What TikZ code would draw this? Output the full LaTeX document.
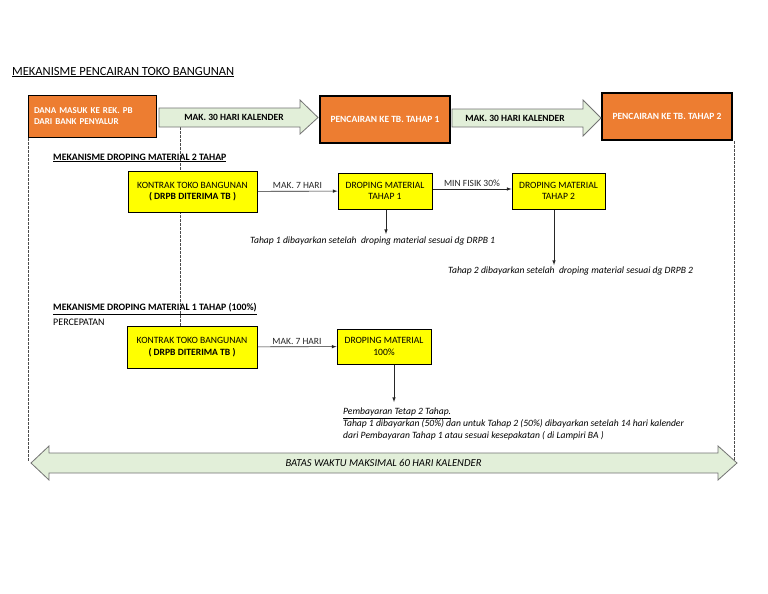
\documentclass[tikz,border=0pt]{standalone}
\usepackage{fontspec}
\setmainfont{Carlito}
\definecolor{oranye}{HTML}{ED7D31}
\definecolor{hijau}{HTML}{E2EFD9}
\definecolor{kuning}{HTML}{FFFF00}

\begin{document}
\begin{tikzpicture}[x=1pt,y=-1pt,
  oranyebox/.style={draw=black,line width=0.8pt,fill=oranye,text=white,inner sep=0pt,
    font=\fontsize{9.5}{11}\selectfont\bfseries},
  kuningbox/.style={draw=black,line width=1pt,fill=kuning,inner sep=0pt,align=center,
    font=\fontsize{9.6}{11.5}\selectfont},
  panah/.style={draw=black!55,fill=hijau,line width=0.8pt},
  garis/.style={-latex,black!85,line width=0.6pt},
  putus/.style={dashed,black!70,line width=0.7pt,dash pattern=on 2.5pt off 1.5pt},
  lbl/.style={font=\fontsize{9.5}{11}\selectfont,inner sep=2pt},
  ket/.style={font=\fontsize{9.6}{11.6}\selectfont\itshape,anchor=west,inner sep=0pt,align=left},
  judulsub/.style={font=\fontsize{9.8}{11}\selectfont\bfseries,anchor=west,inner sep=0pt}]
\useasboundingbox[fill=white] (0,0) rectangle (768,594);

% garis putus-putus
\coordinate (kiriA) at (28,138);
\coordinate (kiriB) at (28,462);
\coordinate (kananA) at (734,141);
\coordinate (kananB) at (734,462);
\coordinate (tengahA) at (180,127);
\coordinate (tengahB) at (180,326);
\draw[putus] (kiriA) -- (kiriB);
\draw[putus] (kananA) -- (kananB);
\draw[putus] (tengahA) -- (tengahB);

\node[anchor=west,inner sep=0pt,font=\fontsize{12.5}{14}\selectfont] (judul) at (12,72)
  {\underline{MEKANISME PENCAIRAN TOKO BANGUNAN}};

% baris pencairan
\node[oranyebox,minimum width=128pt,minimum height=42pt,text width=116pt,align=left,
  font=\fontsize{9}{11}\selectfont\bfseries] (dana) at (92,116)
  {DANA MASUK KE REK. PB\\DARI BANK PENYALUR};
\node[oranyebox,minimum width=130pt,minimum height=47pt,line width=1.2pt] (cair1) at (385,119.5)
  {PENCAIRAN KE TB. TAHAP 1};
\node[oranyebox,minimum width=130pt,minimum height=47pt,line width=1.2pt] (cair2) at (667,116.5)
  {PENCAIRAN KE TB. TAHAP 2};

\draw[panah] (159,108) -- (300,108) -- (300,100) -- (318,117.5) -- (300,134) -- (300,127) -- (159,127) -- cycle;
\node[font=\fontsize{9.5}{11}\selectfont\bfseries] (hari1) at (234,117.5) {MAK. 30 HARI KALENDER};
\draw[panah] (452,109) -- (583,109) -- (583,100) -- (601,118) -- (583,136) -- (583,127) -- (452,127) -- cycle;
\node[font=\fontsize{9.5}{11}\selectfont\bfseries] (hari2) at (515,118) {MAK. 30 HARI KALENDER};

% droping material 2 tahap
\node[judulsub] (sub1) at (53,158) {\underline{MEKANISME DROPING MATERIAL 2 TAHAP}};
\node[kuningbox,minimum width=129pt,minimum height=41pt] (kontrak1) at (192.5,191.5)
  {KONTRAK TOKO BANGUNAN\\\textbf{( DRPB DITERIMA TB )}};
\node[kuningbox,minimum width=94pt,minimum height=36pt] (drop1) at (385,191)
  {DROPING MATERIAL\\TAHAP 1};
\node[kuningbox,minimum width=93pt,minimum height=36pt] (drop2) at (558.5,191)
  {DROPING MATERIAL\\TAHAP 2};
\draw[garis] (kontrak1) -- node[lbl,above] {MAK. 7 HARI} (drop1);
\draw[garis] (drop1.east |- 0,189) -- node[lbl,above] {MIN FISIK 30\%} (drop2.west |- 0,189);

\node[ket] (ket1) at (250,241) {Tahap 1 dibayarkan setelah\ \ droping material sesuai dg DRPB 1};
\node[ket] (ket2) at (448,271) {Tahap 2 dibayarkan setelah\ \ droping material sesuai dg DRPB 2};
\coordinate (u1) at (386,234);
\coordinate (u2) at (554,265);
\draw[garis] (u1 |- drop1.south) -- (u1);
\draw[garis] (u2 |- drop2.south) -- (u2);

% droping material 1 tahap
\node[judulsub] (sub2) at (53,309) {\underline{MEKANISME DROPING MATERIAL 1 TAHAP (100\%)}};
\node[anchor=west,inner sep=0pt,font=\fontsize{10}{11}\selectfont] (cepat) at (53,322) {PERCEPATAN};
\node[kuningbox,minimum width=130pt,minimum height=42pt] (kontrak2) at (192,347)
  {KONTRAK TOKO BANGUNAN\\\textbf{( DRPB DITERIMA TB )}};
\node[kuningbox,minimum width=94pt,minimum height=35pt] (drop3) at (384,346.5)
  {DROPING MATERIAL\\100\%};
\draw[garis] (kontrak2) -- node[lbl,above] {MAK. 7 HARI} (drop3);
\coordinate (u3) at (394,402);
\draw[garis] (u3 |- drop3.south) -- (u3);
\node[ket,anchor=north west,font=\fontsize{9.6}{12}\selectfont\itshape] (bayar) at (343,408)
  {\underline{Pembayaran Tetap 2 Tahap.}\\
   Tahap 1 dibayarkan (50\%) dan untuk Tahap 2 (50\%) dibayarkan setelah 14 hari kalender\\
   dari Pembayaran Tahap 1 atau sesuai kesepakatan ( di Lampiri BA )};

% batas waktu
\draw[panah] (31,463) -- (49,446) -- (49,453) -- (718,453) -- (718,446) -- (737,463)
  -- (718,480) -- (718,473) -- (49,473) -- (49,480) -- cycle;
\node[font=\fontsize{10.6}{12}\selectfont\itshape] (batas) at (383.5,462.5) {BATAS WAKTU MAKSIMAL 60 HARI KALENDER};
\end{tikzpicture}
\end{document}
